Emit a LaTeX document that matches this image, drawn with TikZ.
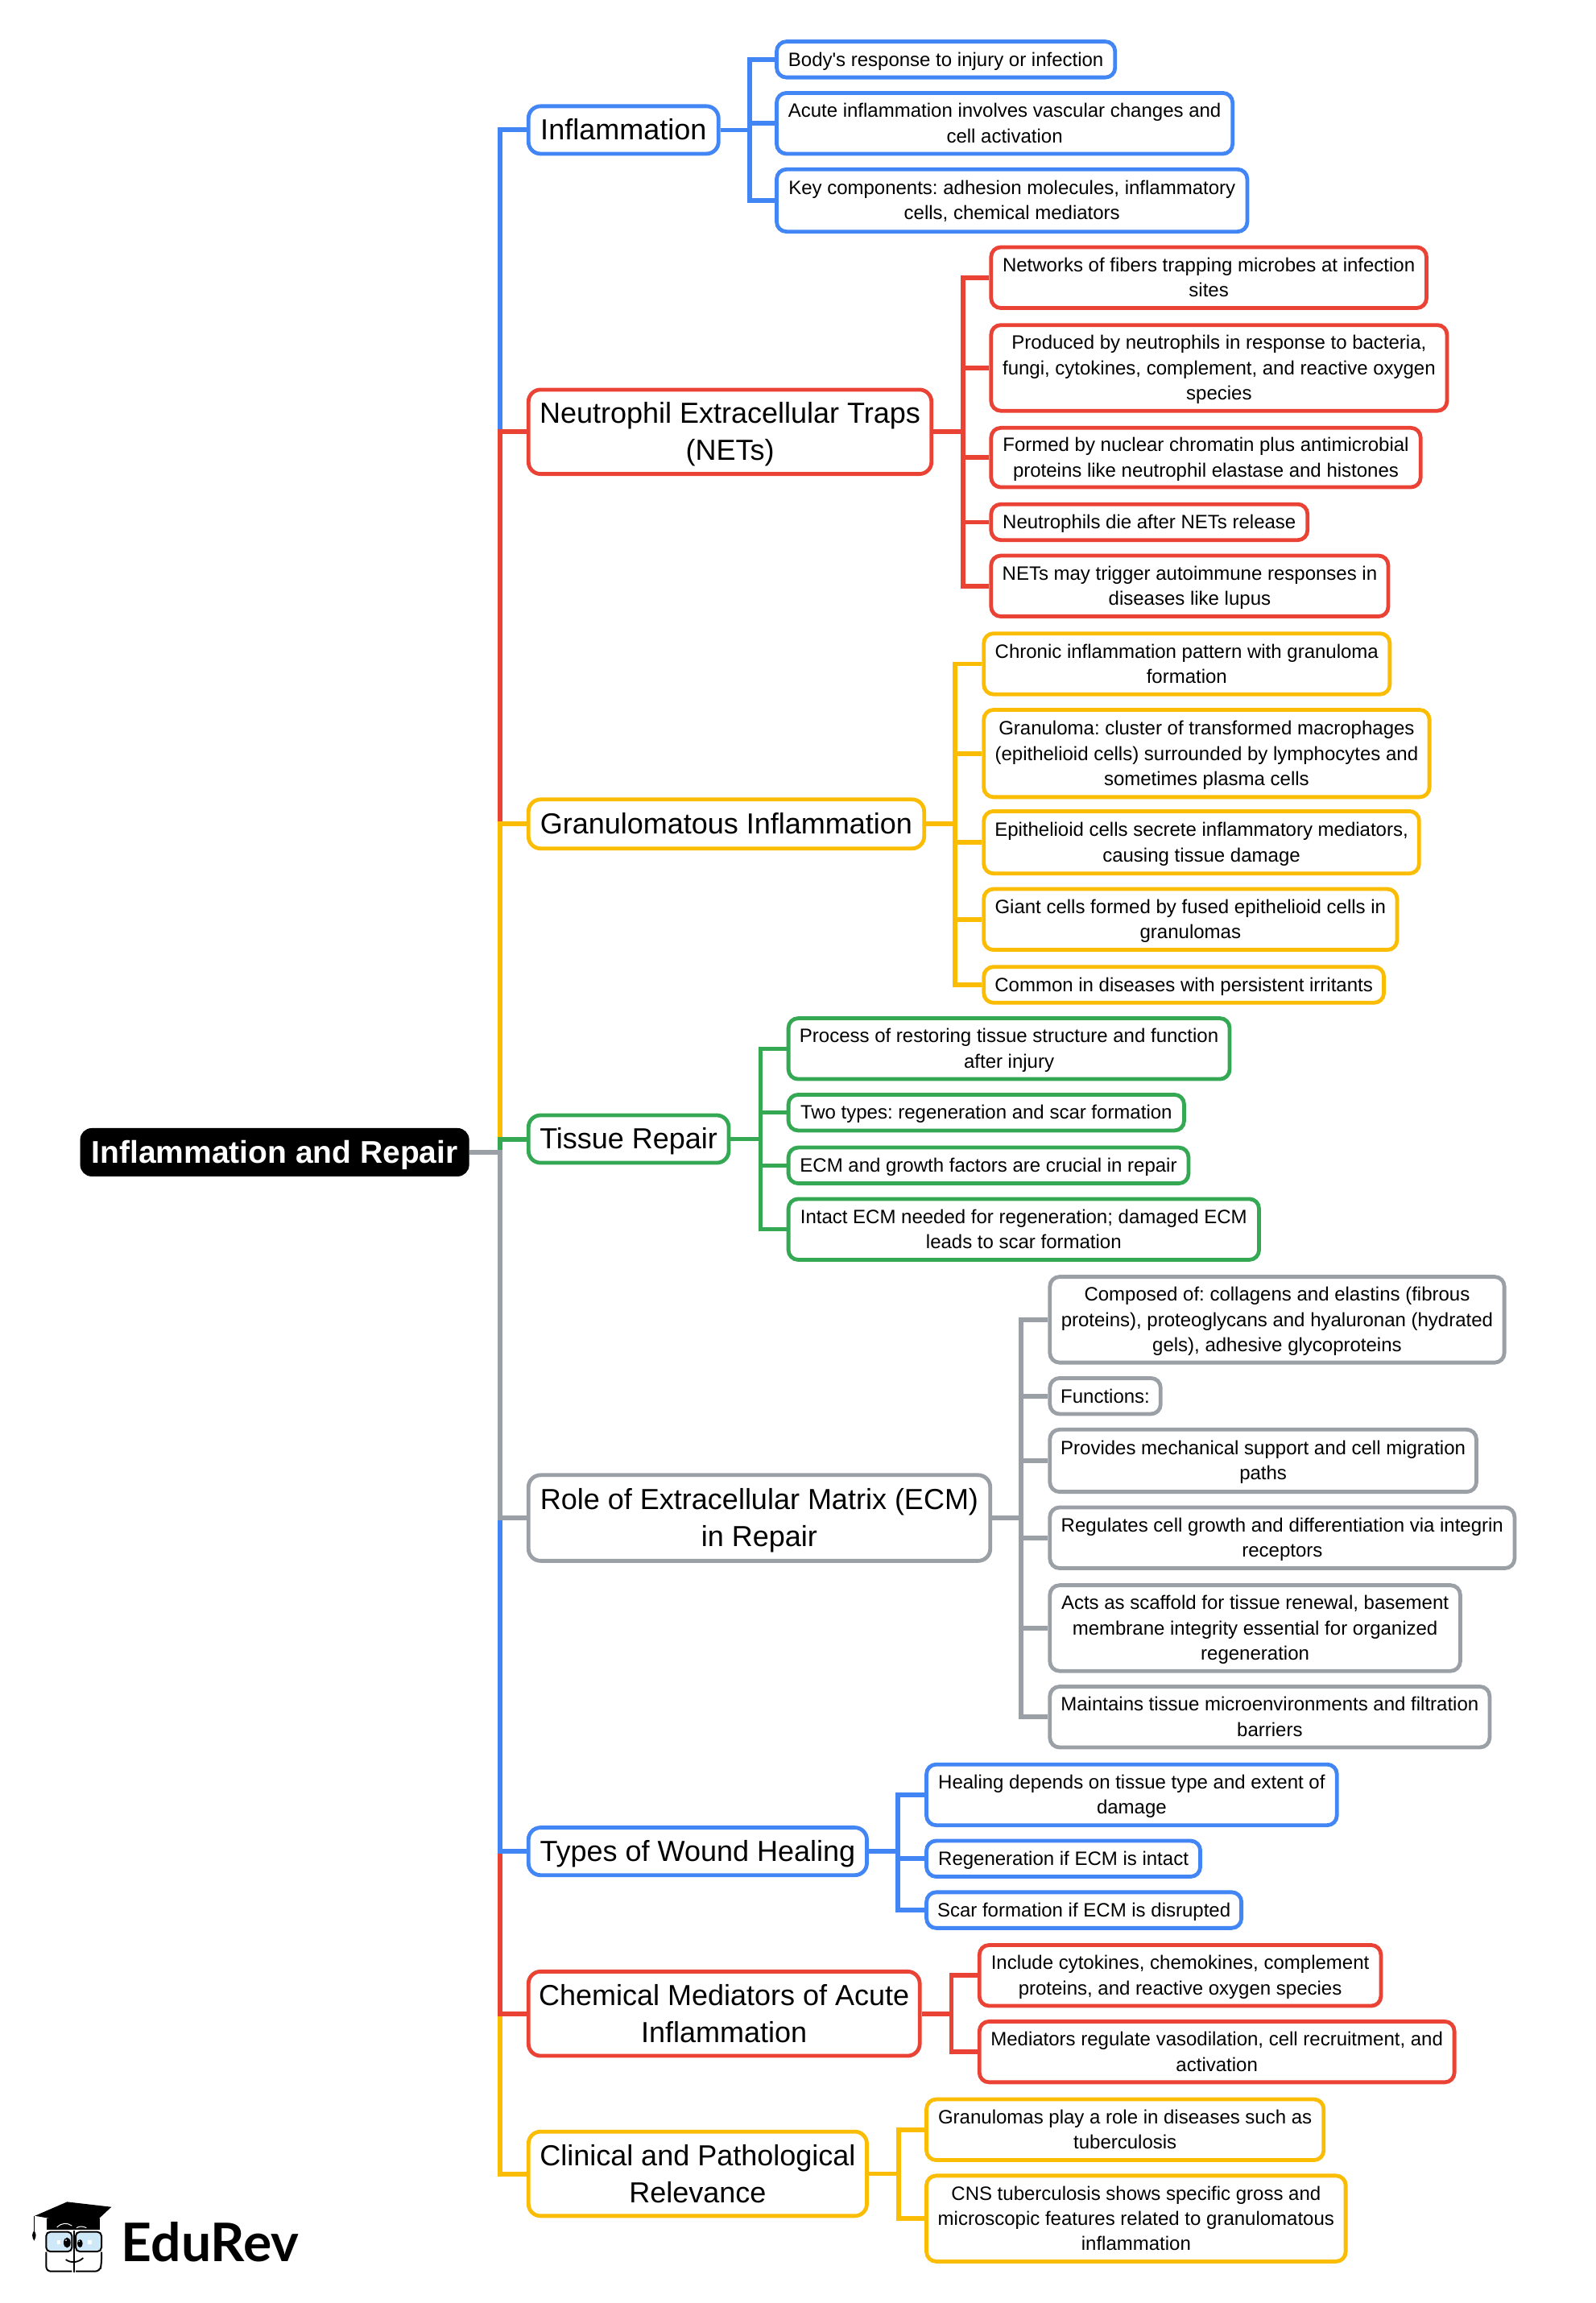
\documentclass[tikz,border=0pt]{standalone}
\usepackage{fontspec}
\newfontfamily\lib{Liberation Sans}
\newfontfamily\brand{Lato}
\definecolor{cblue}{HTML}{4285F4}
\definecolor{cred}{HTML}{EA4335}
\definecolor{cyel}{HTML}{FBBC04}
\definecolor{cgrn}{HTML}{34A853}
\definecolor{cgry}{HTML}{9AA0A6}
\definecolor{cglass}{HTML}{CFE8F7}
\tikzset{
  settop/.code={\gdef\ndtop{\rule{0pt}{#1}}},
  box/.style={draw=#1,fill=white,line width=2.4pt,rounded corners=6pt,inner sep=0pt,align=center,text=black},
  leafbox/.style={box=#1,font=\lib\frenchspacing\fontsize{12}{15.7}\selectfont,
    settop=12pt,execute at end node=\rule[-3.7pt]{0pt}{3.7pt}},
  mainbox/.style={box=#1,rounded corners=7.5pt,font=\lib\frenchspacing\fontsize{18}{23}\selectfont,
    settop=17.74pt,execute at end node=\rule[-5.26pt]{0pt}{5.26pt}},
  rootbox/.style={draw=black,fill=black,text=white,rounded corners=7pt,inner sep=0pt,align=center,font=\lib\bfseries\fontsize{19.5}{24}\selectfont,
    settop=18.75pt,execute at end node=\rule[-5.25pt]{0pt}{5.25pt}},
  conn/.style={draw=#1,line width=2.8pt},
  trunk/.style={draw=#1,line width=3pt},
}
% name, style, x0, x1, y0, y1, text
\newcommand\nd[7]{%
  \pgfmathsetmacro\ndcx{(#3+#4)/2}\pgfmathsetmacro\ndcy{(#5+#6)/2}%
  \pgfmathsetmacro\ndw{(#4-#3+0.4)*0.912}\pgfmathsetmacro\ndh{(#6-#5+1.4)*0.912}%
  \node[#2,minimum width=\ndw pt,minimum height=\ndh pt] (#1) at (\ndcx,\ndcy) {\ndtop#7};%
}
\begin{document}
\begin{tikzpicture}[x=0.912pt,y=-0.912pt]
\useasboundingbox (0,0) rectangle (1086.6,1568);
% main nodes
\nd{root}{rootbox}{55}{319}{769}{800}{Inflammation and Repair}
\nd{inf}{mainbox=cblue}{360}{489}{73}{104}{Inflammation}
\nd{nets}{mainbox=cred}{360}{634}{266}{322}{Neutrophil Extracellular Traps\\(NETs)}
\nd{gran}{mainbox=cyel}{360}{629}{545}{577}{Granulomatous Inflammation}
\nd{tiss}{mainbox=cgrn}{360}{496}{760}{791}{Tissue Repair}
\nd{ecm}{mainbox=cgry}{360}{674}{1005}{1062}{Role of Extracellular Matrix (ECM)\\in Repair}
\nd{types}{mainbox=cblue}{360}{590}{1245}{1276}{Types of Wound Healing}
\nd{chem}{mainbox=cred}{360}{626}{1343}{1399}{Chemical Mediators of Acute\\Inflammation}
\nd{clin}{mainbox=cyel}{360}{590}{1452}{1508}{Clinical and Pathological\\Relevance}
% leaves
\nd{a1}{leafbox=cblue}{529}{759}{29}{52}{Body's response to injury or infection}
\nd{a2}{leafbox=cblue}{529}{839}{64}{104}{Acute inflammation involves vascular changes and\\cell activation}
\nd{a3}{leafbox=cblue}{529}{849}{116}{157}{Key components: adhesion molecules, inflammatory\\cells, chemical mediators}
\nd{b1}{leafbox=cred}{675}{971}{169}{209}{Networks of fibers trapping microbes at infection\\sites}
\nd{b2}{leafbox=cred}{675}{985}{222}{279}{Produced by neutrophils in response to bacteria,\\fungi, cytokines, complement, and reactive oxygen\\species}
\nd{b3}{leafbox=cred}{675}{967}{292}{331}{Formed by nuclear chromatin plus antimicrobial\\proteins like neutrophil elastase and histones}
\nd{b4}{leafbox=cred}{675}{890}{344}{367}{Neutrophils die after NETs release}
\nd{b5}{leafbox=cred}{675}{945}{379}{419}{NETs may trigger autoimmune responses in\\diseases like lupus}
\nd{c1}{leafbox=cyel}{670}{946}{432}{472}{Chronic inflammation pattern with granuloma\\formation}
\nd{c2}{leafbox=cyel}{670}{973}{484}{542}{Granuloma: cluster of transformed macrophages\\(epithelioid cells) surrounded by lymphocytes and\\sometimes plasma cells}
\nd{c3}{leafbox=cyel}{670}{966}{553}{594}{Epithelioid cells secrete inflammatory mediators,\\causing tissue damage}
\nd{c4}{leafbox=cyel}{670}{951}{606}{646}{Giant cells formed by fused epithelioid cells in\\granulomas}
\nd{c5}{leafbox=cyel}{670}{942}{659}{682}{Common in diseases with persistent irritants}
\nd{d1}{leafbox=cgrn}{537}{837}{694}{734}{Process of restoring tissue structure and function\\after injury}
\nd{d2}{leafbox=cgrn}{537}{806}{746}{769}{Two types: regeneration and scar formation}
\nd{d3}{leafbox=cgrn}{537}{809}{782}{805}{ECM and growth factors are crucial in repair}
\nd{d4}{leafbox=cgrn}{537}{857}{817}{857}{Intact ECM needed for regeneration; damaged ECM\\leads to scar formation}
\nd{e1}{leafbox=cgry}{715}{1024}{870}{927}{Composed of: collagens and elastins (fibrous\\proteins), proteoglycans and hyaluronan (hydrated\\gels), adhesive glycoproteins}
\nd{e2}{leafbox=cgry}{715}{790}{939}{962}{Functions:}
\nd{e3}{leafbox=cgry}{715}{1005}{974}{1015}{Provides mechanical support and cell migration\\paths}
\nd{e4}{leafbox=cgry}{715}{1031}{1027}{1067}{Regulates cell growth and differentiation via integrin\\receptors}
\nd{e5}{leafbox=cgry}{715}{994}{1080}{1137}{Acts as scaffold for tissue renewal, basement\\membrane integrity essential for organized\\regeneration}
\nd{e6}{leafbox=cgry}{715}{1014}{1149}{1189}{Maintains tissue microenvironments and filtration\\barriers}
\nd{f1}{leafbox=cblue}{631}{910}{1202}{1242}{Healing depends on tissue type and extent of\\damage}
\nd{f2}{leafbox=cblue}{631}{817}{1254}{1277}{Regeneration if ECM is intact}
\nd{f3}{leafbox=cblue}{631}{845}{1289}{1312}{Scar formation if ECM is disrupted}
\nd{g1}{leafbox=cred}{667}{940}{1325}{1365}{Include cytokines, chemokines, complement\\proteins, and reactive oxygen species}
\nd{g2}{leafbox=cred}{667}{990}{1377}{1417}{Mediators regulate vasodilation, cell recruitment, and\\activation}
\nd{h1}{leafbox=cyel}{631}{901}{1430}{1470}{Granulomas play a role in diseases such as\\tuberculosis}
\nd{h2}{leafbox=cyel}{631}{916}{1482}{1539}{CNS tuberculosis shows specific gross and\\microscopic features related to granulomatous\\inflammation}
% trunk connectors
\draw[trunk=cblue] (root.east) -- ++(20.8,0) |- (inf.west);
\draw[trunk=cred] (root.east) -- ++(20.8,0) |- (nets.west);
\draw[trunk=cyel] (root.east) -- ++(20.8,0) |- (gran.west);
\draw[trunk=cgrn] (root.east) -- ++(20.8,0) |- (tiss.west);
\draw[trunk=cyel] (root.east) -- ++(20.8,0) |- (clin.west);
\draw[trunk=cred] (root.east) -- ++(20.8,0) |- (chem.west);
\draw[trunk=cblue] (root.east) -- ++(20.8,0) |- (types.west);
\draw[trunk=cgry] (root.east) -- ++(20.8,0) |- (ecm.west);
% branch connectors
\foreach \l in {a1,a2,a3} \draw[conn=cblue] (inf.east) -- ++(19.8,0) |- (\l.west);
\foreach \l in {b1,b2,b3,b4,b5} \draw[conn=cred] (nets.east) -- ++(20.3,0) |- (\l.west);
\foreach \l in {c1,c2,c3,c4,c5} \draw[conn=cyel] (gran.east) -- ++(19.8,0) |- (\l.west);
\foreach \l in {d1,d2,d3,d4} \draw[conn=cgrn] (tiss.east) -- ++(20.3,0) |- (\l.west);
\foreach \l in {e1,e2,e3,e4,e5,e6} \draw[conn=cgry] (ecm.east) -- ++(19.8,0) |- (\l.west);
\foreach \l in {f1,f2,f3} \draw[conn=cblue] (types.east) -- ++(19.8,0) |- (\l.west);
\foreach \l in {g1,g2} \draw[conn=cred] (chem.east) -- ++(20.3,0) |- (\l.west);
\foreach \l in {h1,h2} \draw[conn=cyel] (clin.east) -- ++(20.3,0) |- (\l.west);
% logo
\node[anchor=base west,inner sep=0pt,font=\brand\bfseries\fontsize{33}{33}\selectfont,text=black] (brand) at (82.5,1539.5) {EduRev};
\begin{scope}[shift={(0,1480.3)},x=0.16667pt,y=-0.16667pt]
  \fill[black] (175,165) -- (175,208) -- (372,208) -- (372,165) -- cycle;
  \draw[white,line width=0.5pt] (212,198) .. controls (230,180) and (250,180) .. (268,192);
  \draw[white,line width=0.5pt] (285,200) .. controls (295,193) and (310,193) .. (322,200);
  \fill[black] (130,155) -- (250,103) -- (415,122) -- (340,192) -- cycle;
  \draw[black,line width=0.6pt] (127,155) -- (127,215);
  \fill[black] (127,210) .. controls (118,222) and (118,232) .. (127,248) .. controls (136,232) and (136,222) .. (127,210) -- cycle;
  \draw[black,line width=1pt,fill=cglass,rounded corners=2.5pt] (172,215) rectangle (268,288);
  \draw[black,line width=1pt,fill=cglass,rounded corners=2.5pt] (282,215) rectangle (378,288);
  \draw[black,line width=1pt,rounded corners=3pt] (268,362) -- (172,362) -- (172,290);
  \draw[black,line width=1pt,rounded corners=3pt] (282,362) -- (372,362) -- (378,335) -- (378,290);
  \draw[black,line width=1pt] (275,210) -- (275,365);
  \fill[black] (250,255) ellipse [x radius=13,y radius=19];
  \fill[black] (298,258) ellipse [x radius=10,y radius=15];
  \fill[white] (246,246) circle (3);
  \fill[white] (295,250) circle (2.5);
  \fill[white] (212,246) rectangle (226,262);
  \fill[white] (326,246) rectangle (342,262);
  \draw[black,line width=0.9pt] (245,318) .. controls (265,332) and (290,330) .. (310,312);
\end{scope}
\end{tikzpicture}
\end{document}
